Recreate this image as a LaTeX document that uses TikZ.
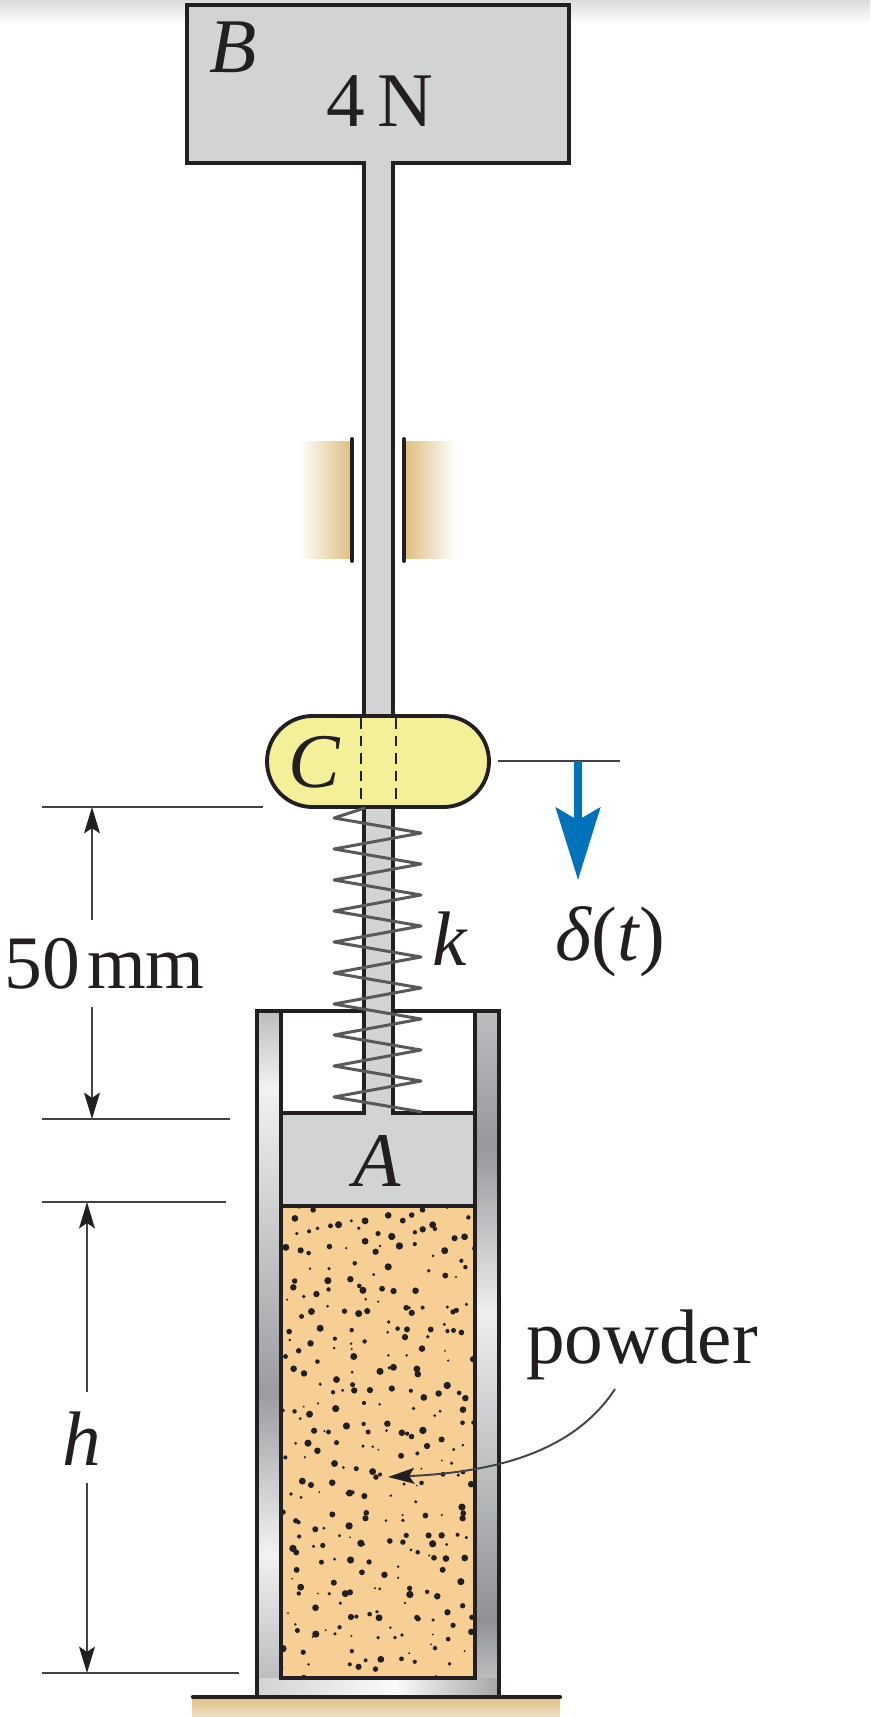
\documentclass[tikz,border=0pt]{standalone}
\usepackage{fontspec}
\setmainfont{Liberation Serif}
\usepackage{tikz}
\usetikzlibrary{math,arrows.meta}
\definecolor{InkBlack}{RGB}{35,31,32}
\definecolor{SteelGrey}{RGB}{209,211,212}
\definecolor{CollarYellow}{RGB}{244,240,154}
\definecolor{PowderTan}{RGB}{247,207,148}
\definecolor{WoodTan}{RGB}{222,190,130}
\definecolor{DeltaBlue}{RGB}{0,114,188}
\definecolor{CoilGrey}{RGB}{88,89,91}
\tikzset{%
  outline/.style={line width=2.2pt, color=InkBlack, line join=miter},
  thin line/.style={line width=1.1pt, color=InkBlack!85},
  dim arrow/.style={thin line, -{Stealth[length=15pt,width=9pt,inset=3pt,color=InkBlack]}},
  label text/.style={font=\fontsize{44}{50}\selectfont, text=InkBlack, inner sep=0pt, anchor=base}
}

\begin{document}
\begin{tikzpicture}[x=0.02cm,y=-0.02cm]
    \tikzmath{
      \rodL=364; % rod left
      \rodR=393; % rod right
      \wallL=257; % wall outer left
      \innL=281; % wall inner left
      \innR=475; % wall inner right
      \wallR=499; % wall outer right
      \colT=716; % collar top
      \colB=807; % collar bottom
      \pisT=1113; % piston top
      \pisB=1206; % piston bottom
      \floorY=1678; % cylinder floor
      \groundY=1697; % ground
    }
    \useasboundingbox (0,0) rectangle (870,1717);
    \fill[top color=black!14,bottom color=white] (0,0) rectangle (870,24);

    % ground and guides
    \fill[top color=WoodTan,bottom color=WoodTan!45] (192,\groundY) rectangle (560,1717);
    \fill[left color=white,right color=WoodTan] (299,441) rectangle (351,558);
    \fill[left color=WoodTan,right color=white] (405,441) rectangle (456,558);
    \draw[outline,line cap=round] (352,439) -- (352,561);
    \draw[outline,line cap=round] (404,439) -- (404,561);

    % cylinder walls
    \foreach \ya/\yb/\cA/\cB in {1011/1087/BBBDBF/F1F2F2, 1087/1393/F1F2F2/9A9CA0, 1393/1553/9A9CA0/F1F2F2, 1553/1678/F1F2F2/BBBDBF} {
      \definecolor{ctop}{HTML}{\cA}\definecolor{cbot}{HTML}{\cB}
      \fill[top color=ctop,bottom color=cbot] (\wallL,\ya) rectangle (\innL,\yb);
    }
    \foreach \ya/\yb/\cA/\cB in {1011/1147/BBBDBF/96989C, 1147/1313/96989C/EDEEEE, 1313/1620/EDEEEE/8F9195, 1620/1678/8F9195/BBBDBF} {
      \definecolor{ctop}{HTML}{\cA}\definecolor{cbot}{HTML}{\cB}
      \fill[top color=ctop,bottom color=cbot] (\innR,\ya) rectangle (\wallR,\yb);
    }
    \fill[left color=SteelGrey,right color=white!90!SteelGrey] (\wallL,\floorY) rectangle (395,\groundY);
    \fill[left color=white!90!SteelGrey,right color=black!35] (395,\floorY) rectangle (\wallR,\groundY);

    % powder
    \fill[color=PowderTan] (\innL,\pisB) rectangle (\innR,\floorY);
    \begin{scope} % scope to clip
      \clip (\innL,\pisB) rectangle (\innR,\floorY);
      \pgfmathsetseed{4217}
      \foreach \ix in {0,...,13} {
        \foreach \iy in {0,...,22} {
          \pgfmathsetmacro{\dx}{\innL+(\ix+1.3*rnd-0.15)*194/14}
          \pgfmathsetmacro{\dy}{\pisB+(\iy+1.3*rnd-0.15)*472/23}
          \pgfmathsetmacro{\dr}{0.9+2.8*rnd}
          \fill[color=InkBlack] (\dx,\dy) circle[radius=\dr];
        }
      }
    \end{scope}

    % piston with lower rod
    \fill[color=SteelGrey] (\innL,\pisT) rectangle (\innR,\pisB);
    \fill[color=SteelGrey] (\rodL,\colB) rectangle (\rodR,\pisT+2);
    \draw[outline] (\innL,\pisT) -- (\rodL,\pisT) -- (\rodL,\colB);
    \draw[outline] (\innR,\pisT) -- (\rodR,\pisT) -- (\rodR,\colB);
    \draw[outline] (\innL,\pisB) -- (\innR,\pisB);

    % cylinder outline
    \draw[outline] (\wallL,\groundY) -- (\wallL,1011) -- (\rodL,1011);
    \draw[outline] (\wallR,\groundY) -- (\wallR,1011) -- (\rodR,1011);
    \draw[outline] (\innL,1011) -- (\innL,\floorY) -- (\innR,\floorY) -- (\innR,1011);
    \draw[outline,line width=2.4pt,line cap=round] (193,\groundY) -- (560,\groundY);

    % block B and upper rod
    \draw[outline,fill=SteelGrey] (187,5) -- (569,5) -- (569,163) -- (\rodR,163) -- (\rodR,\colT+4)
      -- (\rodL,\colT+4) -- (\rodL,163) -- (187,163) -- cycle;

    % collar C
    \draw[outline,fill=CollarYellow,rounded corners=0.91cm] (267,\colT) rectangle (489,\colB);
    \draw[line width=0.9pt,color=InkBlack,dash pattern=on 6pt off 4pt] (361,\colT+2) -- (361,\colB-2);
    \draw[line width=0.9pt,color=InkBlack,dash pattern=on 6pt off 4pt] (396,\colT+2) -- (396,\colB-2);

    % spring
    \draw[line width=1.7pt,color=CoilGrey,line join=round] (365,\colB+1)
      \foreach \i in {0,...,8} { -- (334,{818+31*\i}) -- (421,{833+31*\i}) }
      -- (334,1097) -- (422,1112);

    % labels
    \node[label text] (labelB) at (233,72) {\itshape B};
    \node[label text] (labelW) at (380,127) {4\,N};
    \node[label text] (labelC) at (314,787) {\itshape C};
    \node[label text] (labelA) at (377,1186) {\itshape A};
    \node[label text] (labelk) at (450,965) {\itshape k};
    \node[label text] (labeld) at (610,960) {{\itshape δ}(\kern0.5pt{\itshape t})};
    \node[label text] (labelp) at (642,1363) {powder};
    \node[label text,anchor=base east,font=\fontsize{43}{48}\selectfont] (labelL) at (205,988) {50\kern4pt mm};
    \node[label text] (labelh) at (82,1465) {\itshape h};

    % motion arrow
    \coordinate (motionA) at (498,761);
    \coordinate (motionB) at (620,761);
    \coordinate (deltaA) at (578,761);
    \coordinate (deltaB) at (578,880);
    \draw[thin line] (motionA) -- (motionB);
    \draw[line width=5pt,color=DeltaBlue,-{Stealth[length=41pt,width=25pt,inset=7pt]}] (deltaA) -- (deltaB);

    % dimensions
    \coordinate (topA) at (42,807);
    \coordinate (topB) at (263,807);
    \coordinate (midA) at (42,1119);
    \coordinate (midB) at (230,1119);
    \coordinate (lowA) at (42,1202);
    \coordinate (lowB) at (226,1202);
    \coordinate (botA) at (42,1673);
    \coordinate (botB) at (239,1673);
    \draw[thin line] (topA) -- (topB);
    \draw[thin line] (midA) -- (midB);
    \draw[thin line] (lowA) -- (lowB);
    \draw[thin line] (botA) -- (botB);
    \coordinate (gapA) at (92,920);
    \coordinate (gapB) at (92,1007);
    \coordinate (gapC) at (87,1392);
    \coordinate (gapD) at (87,1483);
    \draw[dim arrow] (gapA) -- (92,807);
    \draw[dim arrow] (gapB) -- (92,1119);
    \draw[dim arrow] (gapC) -- (87,1202);
    \draw[dim arrow] (gapD) -- (87,1673);

    % leader
    \coordinate (powderA) at (615,1389);
    \coordinate (powderB) at (388,1477);
    \draw[thin line,-{Stealth[length=15pt,width=9pt,inset=3pt,color=InkBlack]}] (powderA) .. controls (575,1450) and (500,1472) .. (powderB);
  \end{tikzpicture}
\end{document}
